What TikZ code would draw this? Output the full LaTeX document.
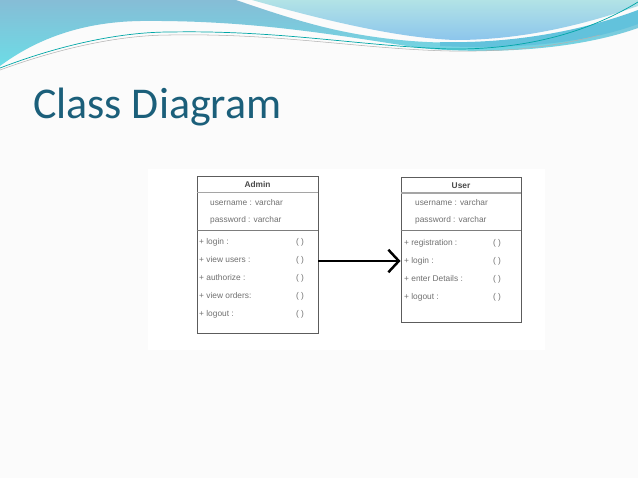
\documentclass[tikz,border=0pt]{standalone}
\usepackage{fontspec}
\setmainfont{Liberation Sans}
\newfontfamily\titlefont{Carlito}
\usepackage{tikz}
\usetikzlibrary{arrows.meta,calc,positioning}
\definecolor{titleblue}{HTML}{1B5F7A}
\definecolor{umltext}{HTML}{707070}
\definecolor{umlline}{HTML}{5C5C5C}
\definecolor{wavedark}{HTML}{86BDD6}
\definecolor{wavecyan}{HTML}{6CDCE6}
\definecolor{wavelight}{HTML}{B2E3E6}
\definecolor{waveblue}{HTML}{8CC5EC}
\definecolor{waveband}{HTML}{62C2DC}
\tikzset{
  classbox/.style={draw=umlline,line width=1pt,fill=white,inner sep=0pt},
  header/.style={font=\fontsize{9.5}{11}\selectfont\bfseries,text=umlline!80!black},
  member/.style={font=\fontsize{9.5}{11}\selectfont,text=umltext,inner sep=0pt,
    anchor=west,text height=1.6ex,text depth=.4ex},
  parens/.style={member,anchor=center},
  headrule/.style={line width=2pt,draw=umlline!55},
  seprule/.style={line width=0.8pt,draw=umlline!80},
  assoc/.style={line width=2.2pt,-{Straight Barb[length=0.42cm,width=0.9cm,line width=2.8pt]}}
}

\begin{document}
\begin{tikzpicture}[x=0.04cm,y=-0.04cm]
  \useasboundingbox (0,0) rectangle (638,478);
  \fill[white!97!gray] (0,0) rectangle (638,478);

  % header waves
  \shade[top color=wavedark,bottom color=wavecyan]
    (0,0) -- (236,0) .. controls (300,22) and (340,34) .. (400,40)
    .. controls (480,48) and (570,38) .. (638,12) -- (638,28)
    .. controls (570,52) and (480,54) .. (420,48)
    .. controls (330,34) and (250,20) .. (140,21)
    .. controls (80,22) and (35,40) .. (0,66) -- cycle;
  \shade[top color=wavelight,bottom color=waveblue]
    (252,0) -- (638,0) -- (638,6) .. controls (580,26) and (520,40) .. (455,40)
    .. controls (400,38) and (330,22) .. (252,0) -- cycle;
  \fill[waveband]
    (440,42) .. controls (520,44) and (590,28) .. (638,10) -- (638,24)
    .. controls (590,42) and (520,50) .. (440,46) -- cycle;
  \draw[teal!70!cyan,line width=0.8pt]
    (0,68) .. controls (60,45) and (120,32) .. (170,32)
    .. controls (280,30) and (360,46) .. (450,49)
    .. controls (540,50) and (600,25) .. (638,2);
  \draw[gray!60,line width=0.6pt]
    (0,70) .. controls (60,48) and (120,35) .. (170,35)
    .. controls (280,33) and (360,49) .. (450,51)
    .. controls (520,52) and (560,45) .. (600,35);

  % title
  \node[anchor=base west,inner sep=0pt,text=titleblue,
    font=\titlefont\fontsize{50}{58}\selectfont] (title) at (33,118) {Class Diagram};

  % diagram panel
  \fill[white] (148,169) rectangle (545,350);

  % Admin class
  \node[classbox,minimum width=4.84cm,minimum height=6.28cm] (admin) at (257.5,254.5) {};
  \node[header] (aname) at (257.5,185) {Admin};
  \draw[headrule] ($(admin.north west)+(0,17)$) -- ($(admin.north east)+(0,17)$);
  \node[member] (aa1) at (210,203) {username : varchar};
  \node[member] (aa2) at (210,220) {password : varchar};
  \draw[seprule] ($(admin.north west)+(0,54.5)$) -- ($(admin.north east)+(0,54.5)$);
  \foreach \t [count=\i] in {+ login :,+ view users :,+ authorize :,+ view orders:,+ logout :}{
    \node[member] (am\i) at (199,224+18*\i) {\t};
    \node[parens] (ap\i) at (300,224+18*\i) {( )};
  }

  % User class
  \node[classbox,minimum width=4.8cm,minimum height=5.8cm] (user) at (461,249.5) {};
  \node[header] (uname) at (461,186) {User};
  \draw[headrule] ($(user.north west)+(0,16.5)$) -- ($(user.north east)+(0,16.5)$);
  \node[member] (ua1) at (415,203) {username : varchar};
  \node[member] (ua2) at (415,220) {password : varchar};
  \draw[seprule] ($(user.north west)+(0,54)$) -- ($(user.north east)+(0,54)$);
  \foreach \t [count=\i] in {+ registration :,+ login :,+ enter Details :,+ logout :}{
    \node[member] (um\i) at (404,225+18*\i) {\t};
    \node[parens] (up\i) at (497,225+18*\i) {( )};
  }

  % association
  \draw[assoc] (admin.east |- um2) -- (user.west |- um2);
\end{tikzpicture}
\end{document}
